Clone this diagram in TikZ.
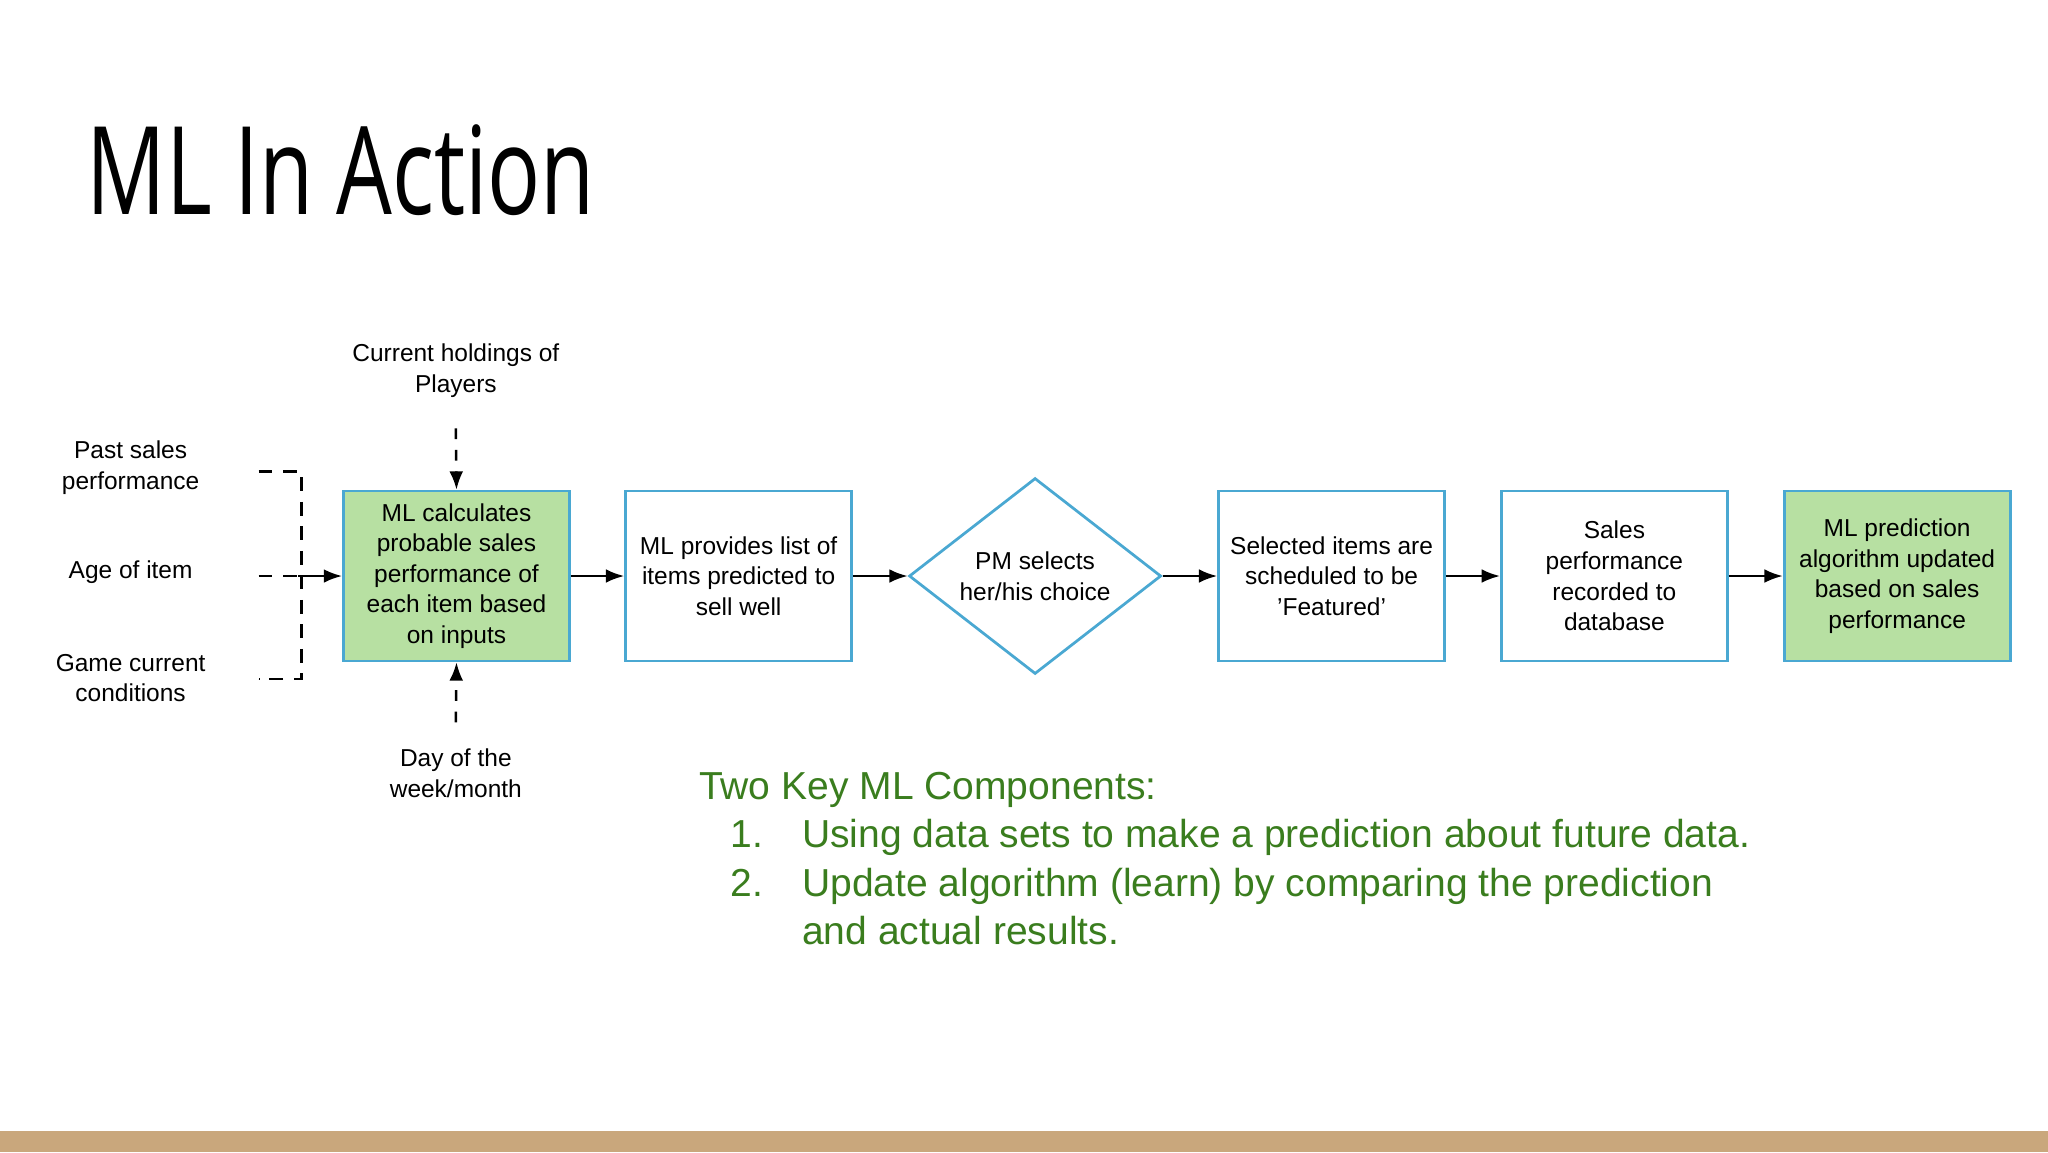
\documentclass[tikz,border=0pt]{standalone}
\usepackage{fontspec}
\setmainfont{Liberation Sans}
\newfontfamily\titlefont[FakeStretch=0.72]{Open Sans}
\usetikzlibrary{shapes.geometric,arrows.meta}
\definecolor{bord}{HTML}{4AA8D2}
\definecolor{gfill}{HTML}{B7E0A2}
\definecolor{gtext}{HTML}{3A7D1E}
\definecolor{bar}{HTML}{C9A77C}
\tikzset{
 boxst/.style={draw=bord,line width=1.8pt,minimum width=173*0.03cm,minimum height=130*0.03cm,align=center,font=\fontsize{16}{20}\selectfont,inner sep=2pt},
 lbl/.style={align=center,font=\fontsize{16}{20}\selectfont},
 arr/.style={-{Latex[length=12pt,width=9pt]},line width=1.6pt},
 darr/.style={arr,dash pattern=on 7pt off 7pt},
 dl/.style={line width=1.6pt,dash pattern=on 9pt off 7pt},
}
\begin{document}
\begin{tikzpicture}[x=0.03cm,y=-0.03cm]
\useasboundingbox (0,0) rectangle (1568,882);
\fill[bar] (0,866) rectangle (1568,882);
\node[anchor=west,font=\titlefont\fontsize{80}{90}\selectfont,inner sep=0] (title) at (66,130) {ML In Action};
\node[boxst,fill=gfill] (b1) at (349.5,441) {ML calculates\\probable sales\\performance of\\each item based\\on inputs};
\node[boxst] (b2) at (565.5,441) {ML provides list of\\items predicted to\\sell well};
\node[diamond,draw=bord,line width=1.8pt,minimum width=193*0.03cm,minimum height=150*0.03cm,inner sep=0,align=center,font=\fontsize{16}{20}\selectfont,aspect=1.29] (d) at (792.5,441) {PM selects\\her/his choice};
\node[boxst] (b4) at (1019.5,441) {Selected items are\\scheduled to be\\'Featured'};
\node[boxst] (b5) at (1236,441) {Sales\\performance\\recorded to\\database};
\node[boxst,fill=gfill] (b6) at (1452.5,441) {ML prediction\\algorithm updated\\based on sales\\performance};
\draw[arr] (b1) -- (b2);
\draw[arr] (b2) -- (d);
\draw[arr] (d) -- (b4);
\draw[arr] (b4) -- (b5);
\draw[arr] (b5) -- (b6);
\node[lbl] (l1) at (100,358) {Past sales\\performance};
\node[lbl] (l2) at (100,438) {Age of item};
\node[lbl] (l3) at (100,519) {Game current\\conditions};
\coordinate (t1) at (198,361); \coordinate (t2) at (231,361);
\coordinate (t3) at (231,520); \coordinate (t4) at (198,520);
\draw[dl] (t1) -- (t2) -- (t3) -- (t4);
\coordinate (m1) at (198,441);
\draw[dl] (m1) -- (230,441);
\draw[arr] (228,441) -- (b1.west);
\node[lbl] (top) at (349,284) {Current holdings of\\Players};
\node[lbl] (bot) at (349,592) {Day of the\\week/month};
\coordinate (c1) at (349,328); \coordinate (c2) at (349,553);
\draw[darr] (c1) -- (b1.north);
\draw[darr] (c2) -- (b1.south);
\begin{scope}[font=\fontsize{25.5}{30}\selectfont,text=gtext]
\node[anchor=base west,inner sep=0] (g0) at (535,612) {Two Key ML Components:};
\node[anchor=base west,inner sep=0] (n1) at (559,649) {1.};
\node[anchor=base west,inner sep=0] (g1) at (614,649) {Using data sets to make a prediction about future data.};
\node[anchor=base west,inner sep=0] (n2) at (559,686) {2.};
\node[anchor=base west,inner sep=0] (g2) at (614,686) {Update algorithm (learn) by comparing the prediction};
\node[anchor=base west,inner sep=0] (g3) at (614,723) {and actual results.};
\end{scope}
\end{tikzpicture}
\end{document}
